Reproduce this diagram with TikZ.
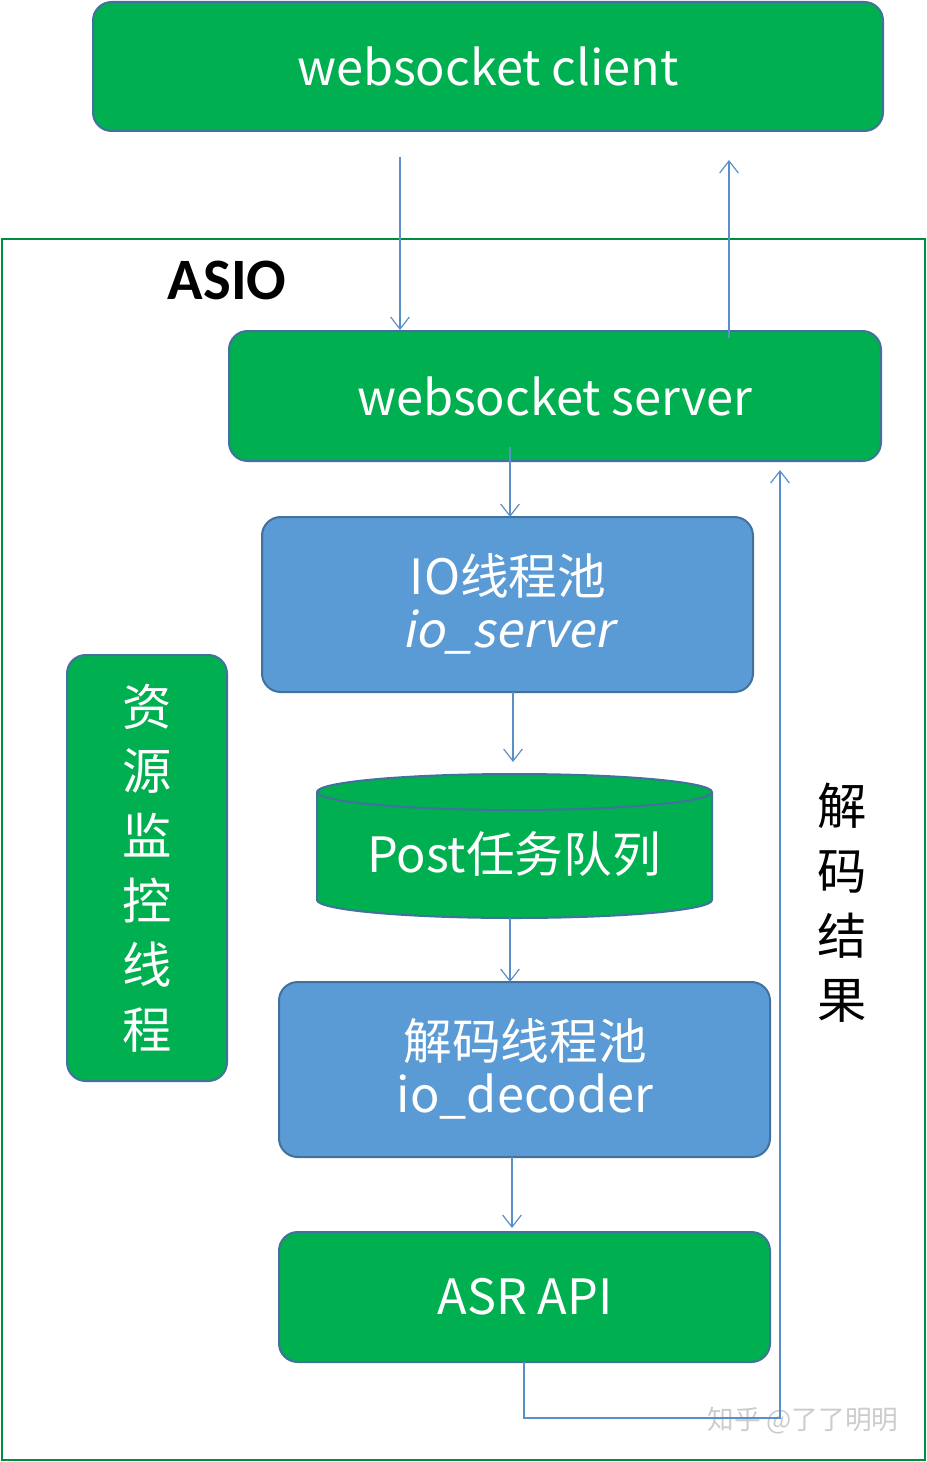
\documentclass[tikz,border=0pt]{standalone}
\usepackage{fontspec}
\setmainfont{Noto Sans CJK SC}
\newfontfamily\carlitofont{Carlito}
\newfontfamily\slantfont{Noto Sans CJK SC}[FakeSlant=0.2]
\usetikzlibrary{shapes.geometric,arrows.meta}
\definecolor{gfill}{HTML}{00B050}
\definecolor{bfill}{HTML}{5B9BD5}
\definecolor{edge}{HTML}{41719C}
\definecolor{arr}{HTML}{5B8FC7}
\begin{document}
\begin{tikzpicture}[x=0.75pt,y=-0.75pt,
  box/.style={draw=edge,line width=1.5pt,rounded corners=14pt},
  g/.style={box,fill=gfill},
  b/.style={box,fill=bfill},
  wt/.style={text=white,font=\fontsize{36.5}{44}\selectfont},
  ar/.style={draw=arr,line width=0.9pt,-{Straight Barb[length=9pt,width=14pt]}}]
\useasboundingbox (0,0) rectangle (927,1462);
\draw[draw=gfill!80!black,line width=1.5pt] (2,239) rectangle (925,1460);
\node[font=\carlitofont\bfseries\fontsize{44}{46}\selectfont] (asio) at (227,280) {ASIO};
\draw[g] (93,2) rectangle (883,131);
\node[wt] (client) at (488,66) {websocket client};
\draw[g] (229,331) rectangle (881,461);
\node[wt] (server) at (555,396) {websocket server};
\draw[b] (262,517) rectangle (753,692);
\node[wt,align=center] (io) at (508,604) {IO线程池\\[-4pt]{\slantfont io\_server}};
\draw[draw=edge,line width=1.5pt,fill=gfill] (317,792) -- (317,900) arc[start angle=180,end angle=0,x radius=197.5,y radius=18] -- (712,792) arc[start angle=0,end angle=-180,x radius=197.5,y radius=18] -- cycle;
\draw[draw=edge,line width=1.5pt] (317,792) arc[start angle=180,end angle=0,x radius=197.5,y radius=18];
\node[wt] (post) at (514,854) {Post任务队列};
\draw[b] (279,982) rectangle (770,1157);
\node[wt,align=center] (dec) at (525,1069) {解码线程池\\[-4pt]io\_decoder};
\draw[g] (279,1232) rectangle (770,1362);
\node[wt] (asr) at (525,1297) {ASR API};
\draw[g] (67,655) rectangle (227,1081);
\node[wt,align=center,font=\fontsize{37}{48.5}\selectfont] (mon) at (147,868) {资\\源\\监\\控\\线\\程};
\node[align=center,font=\fontsize{37}{48.5}\selectfont] (res) at (842,903) {解\\码\\结\\果};
\node[text=gray!40,font=\fontsize{20}{22}\selectfont] (wm) at (803,1421) {知乎 @了了明明};
\coordinate (c1) at (400,157); \coordinate (c2) at (400,330);
\coordinate (c3) at (729,338); \coordinate (c4) at (729,160);
\draw[ar] (c1) -- (c2);
\draw[ar] (c3) -- (c4);
\coordinate (s1) at (510,447); \coordinate (s2) at (510,517);
\draw[ar] (s1) -- (s2);
\coordinate (i1) at (513,692); \coordinate (i2) at (513,762);
\draw[ar] (i1) -- (i2);
\coordinate (p1) at (510,918); \coordinate (p2) at (510,982);
\draw[ar] (p1) -- (p2);
\coordinate (d1) at (512,1157); \coordinate (d2) at (512,1228);
\draw[ar] (d1) -- (d2);
\coordinate (r1) at (524,1362); \coordinate (r2) at (780,470);
\draw[ar] (r1) -- (524,1418) -- (780,1418) -- (r2);
\end{tikzpicture}
\end{document}
